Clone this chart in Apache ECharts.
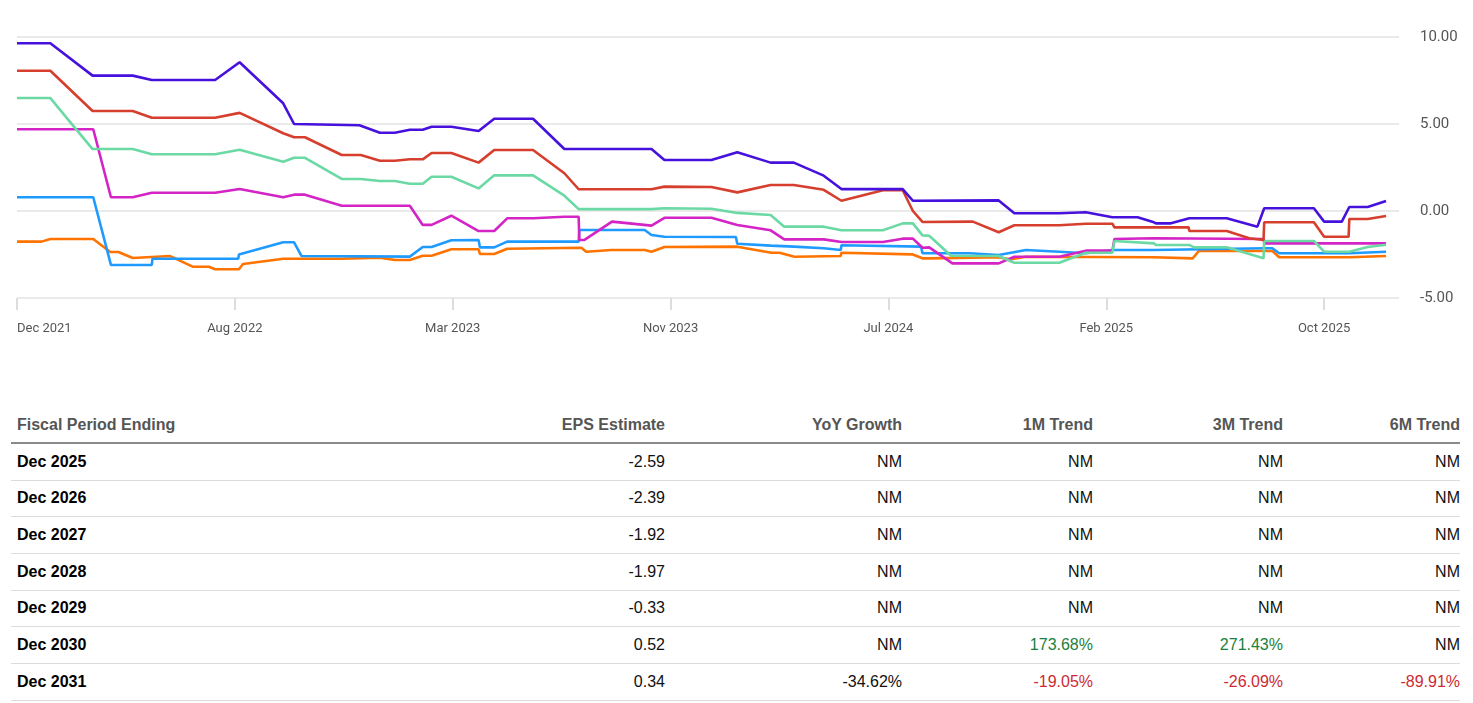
<!DOCTYPE html>
<html>
<head>
<meta charset="utf-8">
<script src="https://cdn.jsdelivr.net/npm/echarts@6/dist/echarts.min.js"></script>
<style>
  html, body { margin: 0; padding: 0; background: #fff; }
  #chart { position: absolute; left: 0; top: 0; width: 1473px; height: 360px; }
  #tbl { position: absolute; left: 11px; top: 407px; width: 1449px; border-collapse: collapse; table-layout: fixed;
         font-family: "Liberation Sans", Arial, sans-serif; font-size: 16px; color: #111; }
  #tbl th { height: 35px; font-weight: bold; color: #555; text-align: right; padding: 0; border-bottom: 2px solid #8a8a8a; vertical-align: middle; }
  #tbl td { height: 35.67px; text-align: right; padding: 0; border-bottom: 1px solid #dcdcdc; vertical-align: middle; }
  #tbl th:first-child, #tbl td:first-child { text-align: left; padding-left: 6px; }
  #tbl td:first-child { font-weight: bold; color: #000; }
  .pos { color: #1a7f3a; }
  .neg { color: #cc2b35; }
</style>
</head>
<body>
<div id="chart"></div>
<table id="tbl"></table>
<script>
// ---- x axis: weeks since Dec 2021; tick labels ----
const tickWeeks = [0, 32, 64, 96, 128, 160, 192];
const tickLabels = ['Dec 2021', 'Aug 2022', 'Mar 2023', 'Nov 2023', 'Jul 2024', 'Feb 2025', 'Oct 2025'];

// ---- series (week, EPS estimate) ----
const dec2030 = [[0,9.64],[4.9,9.64],[11.1,7.78],[17.0,7.78],[19.8,7.53],[29.1,7.53],[32.7,8.55],[39.1,6.19],[40.7,5.00],[50.3,4.93],[53.3,4.50],[55.5,4.50],[57.7,4.67],[59.6,4.67],[60.9,4.84],[63.8,4.84],[67.8,4.60],[70.1,5.30],[75.8,5.30],[80.4,3.56],[93.2,3.56],[95.1,2.93],[102.0,2.93],[105.8,3.37],[110.7,2.78],[114.1,2.78],[118.5,2.03],[121.1,1.26],[130.1,1.26],[131.6,0.59],[144.2,0.61],[146.5,-0.13],[153.1,-0.13],[157.0,-0.07],[160.9,-0.36],[164.6,-0.36],[167.0,-0.65],[167.3,-0.71],[169.5,-0.71],[172.2,-0.42],[177.7,-0.42],[182.2,-0.90],[183.2,0.16],[190.5,0.16],[192.0,-0.61],[194.6,-0.61],[195.7,0.23],[198.4,0.23],[201.1,0.57]];
const dec2029 = [[0,8.06],[4.9,8.06],[11.1,5.75],[17.0,5.75],[19.8,5.36],[29.1,5.36],[32.7,5.64],[39.1,4.47],[40.7,4.24],[42.3,4.24],[47.7,3.22],[50.5,3.22],[53.3,2.89],[55.5,2.89],[57.7,2.97],[59.6,2.97],[60.9,3.33],[63.8,3.33],[67.8,2.78],[70.1,3.51],[75.8,3.51],[80.4,2.17],[82.5,1.25],[93.2,1.25],[95.1,1.40],[102.0,1.38],[105.8,1.07],[110.7,1.49],[114.1,1.49],[118.5,1.22],[121.1,0.59],[127.2,1.19],[130.1,1.19],[131.6,0.00],[133.0,-0.63],[140.4,-0.61],[144.2,-1.22],[146.5,-0.82],[153.1,-0.82],[157.0,-0.73],[160.9,-0.73],[161.2,-0.94],[172.1,-0.94],[172.2,-1.15],[177.7,-1.15],[181.0,-1.57],[183.1,-1.67],[183.2,-0.65],[190.5,-0.65],[192.0,-1.48],[195.6,-1.48],[195.7,-0.46],[198.4,-0.46],[201.1,-0.29]];
const dec2028 = [[0,6.49],[4.9,6.49],[11.1,3.56],[17.0,3.56],[19.8,3.26],[29.1,3.26],[32.7,3.52],[39.1,2.83],[40.7,3.06],[42.3,3.06],[47.7,1.84],[50.5,1.84],[53.3,1.72],[55.5,1.72],[57.7,1.57],[59.6,1.57],[60.9,1.97],[63.8,1.97],[67.8,1.30],[70.1,2.05],[75.8,2.05],[80.4,0.88],[82.5,0.11],[93.2,0.11],[95.1,0.16],[102.0,0.13],[105.8,-0.11],[110.7,-0.23],[112.7,-0.90],[118.5,-0.90],[121.1,-1.11],[127.2,-1.11],[130.1,-0.71],[131.6,-0.71],[133.0,-1.40],[134.0,-1.42],[137.2,-2.57],[144.2,-2.59],[146.5,-2.97],[153.1,-2.97],[157.0,-2.40],[160.9,-2.40],[161.2,-1.72],[167.0,-1.86],[167.3,-1.95],[172.2,-1.95],[172.9,-2.09],[177.7,-2.09],[183.1,-2.72],[183.2,-1.72],[190.5,-1.72],[192.0,-2.34],[195.7,-2.34],[198.4,-2.07],[201.1,-1.94]];
const dec2027 = [[0,4.70],[11.2,4.70],[13.8,0.79],[17.0,0.79],[19.8,1.05],[29.1,1.05],[32.7,1.26],[39.1,0.79],[40.7,0.94],[42.3,0.94],[47.7,0.30],[57.7,0.30],[59.6,-0.80],[60.9,-0.80],[63.8,-0.27],[67.8,-1.15],[70.1,-1.15],[72.0,-0.42],[75.8,-0.42],[80.4,-0.33],[82.5,-0.33],[82.6,-1.67],[83.3,-1.67],[87.4,-0.61],[93.2,-0.84],[95.1,-0.39],[102.0,-0.39],[105.8,-0.80],[110.7,-1.11],[112.7,-1.63],[118.5,-1.63],[121.1,-1.78],[127.2,-1.78],[130.1,-1.59],[131.6,-1.59],[133.0,-2.11],[134.0,-2.09],[137.4,-3.01],[144.2,-3.01],[146.5,-2.63],[153.1,-2.63],[157.0,-2.28],[160.9,-2.28],[161.2,-1.61],[167.0,-1.57],[183.1,-1.61],[183.2,-1.86],[201.1,-1.86]];
const dec2026 = [[0,0.79],[11.2,0.79],[13.8,-3.10],[19.8,-3.10],[19.9,-2.74],[32.5,-2.74],[32.6,-2.50],[39.1,-1.80],[40.7,-1.80],[41.8,-2.59],[57.7,-2.62],[59.6,-2.07],[60.9,-2.07],[63.8,-1.68],[67.8,-1.67],[68.0,-2.09],[70.1,-2.09],[72.0,-1.76],[82.5,-1.76],[82.6,-1.09],[92.2,-1.09],[93.2,-1.38],[95.1,-1.48],[105.6,-1.49],[105.8,-1.88],[110.7,-1.99],[114.1,-2.05],[118.5,-2.14],[121.0,-2.24],[121.1,-1.97],[132.8,-2.05],[133.0,-2.43],[139.9,-2.43],[144.2,-2.53],[148.2,-2.24],[153.1,-2.34],[157.0,-2.43],[161.2,-2.24],[167.0,-2.24],[183.2,-2.14],[184.4,-2.14],[185.4,-2.43],[195.7,-2.43],[201.1,-2.34]];
const dec2025 = [[0,-1.76],[3.6,-1.76],[4.9,-1.61],[11.2,-1.61],[13.7,-2.36],[14.9,-2.36],[17.0,-2.70],[22.5,-2.59],[25.8,-3.20],[28.2,-3.20],[29.1,-3.35],[32.6,-3.35],[33.2,-3.05],[39.1,-2.74],[47.7,-2.74],[47.8,-2.63],[53.3,-2.68],[55.5,-2.82],[57.7,-2.82],[59.6,-2.57],[60.9,-2.57],[63.8,-2.20],[67.8,-2.20],[68.0,-2.47],[70.1,-2.47],[72.0,-2.17],[82.9,-2.11],[83.6,-2.34],[87.3,-2.24],[92.2,-2.24],[93.2,-2.34],[95.1,-2.07],[105.8,-2.05],[110.8,-2.40],[112.0,-2.40],[114.2,-2.63],[121.0,-2.59],[121.1,-2.40],[131.5,-2.49],[131.6,-2.59],[133.0,-2.72],[134.0,-2.72],[144.2,-2.66],[145.8,-2.78],[148.2,-2.63],[167.0,-2.66],[172.7,-2.72],[173.6,-2.30],[184.4,-2.30],[185.4,-2.66],[195.7,-2.66],[201.1,-2.59]];

// ---- table ----
const periods = ['Dec 2025','Dec 2026','Dec 2027','Dec 2028','Dec 2029','Dec 2030','Dec 2031'];
const epsEstimate = ['-2.59','-2.39','-1.92','-1.97','-0.33','0.52','0.34'];
const yoyGrowth = ['NM','NM','NM','NM','NM','NM','-34.62%'];
const trend1M = ['NM','NM','NM','NM','NM','173.68%','-19.05%'];
const trend3M = ['NM','NM','NM','NM','NM','271.43%','-26.09%'];
const trend6M = ['NM','NM','NM','NM','NM','NM','-89.91%'];
const headers = ['Fiscal Period Ending','EPS Estimate','YoY Growth','1M Trend','3M Trend','6M Trend'];

const colWidths = [420, 234, 237, 191, 190, 177];
(function buildTable() {
  const t = document.getElementById('tbl');
  let html = '<colgroup>' + colWidths.map(w => '<col style="width:' + w + 'px">').join('') + '</colgroup>';
  html += '<tr>' + headers.map(h => '<th>' + h + '</th>').join('') + '</tr>';
  const trendCls = v => v === 'NM' ? '' : (v.charAt(0) === '-' ? 'neg' : 'pos');
  periods.forEach((p, i) => {
    html += '<tr><td>' + p + '</td><td>' + epsEstimate[i] + '</td><td>' + yoyGrowth[i] + '</td>' +
      '<td class="' + trendCls(trend1M[i]) + '">' + trend1M[i] + '</td>' +
      '<td class="' + trendCls(trend3M[i]) + '">' + trend3M[i] + '</td>' +
      '<td class="' + trendCls(trend6M[i]) + '">' + trend6M[i] + '</td></tr>';
  });
  t.innerHTML = html;
})();

// ---- chart ----
const seriesDefs = [
  { name: 'Dec 2025', data: dec2025, color: '#ff7300' },
  { name: 'Dec 2026', data: dec2026, color: '#1f9bff' },
  { name: 'Dec 2027', data: dec2027, color: '#d424c6' },
  { name: 'Dec 2028', data: dec2028, color: '#6bd9a4' },
  { name: 'Dec 2029', data: dec2029, color: '#d63e2e' },
  { name: 'Dec 2030', data: dec2030, color: '#4611dc' }
];
const chart = echarts.init(document.getElementById('chart'), null, { renderer: 'canvas' });
chart.setOption({
  animation: false,
  backgroundColor: '#fff',
  textStyle: { fontFamily: 'Roboto, sans-serif' },
  grid: { left: 17, right: 74, top: 37, bottom: 62, containLabel: false },
  xAxis: {
    type: 'value', min: 0, max: 203,
    axisLine: { show: false, onZero: false },
    axisTick: { show: true, length: 12, customValues: tickWeeks, lineStyle: { color: '#dddddd', width: 2 } },
    axisLabel: {
      customValues: tickWeeks, margin: 24, fontSize: 13, color: '#555', alignMinLabel: 'left',
      formatter: v => tickLabels[tickWeeks.indexOf(Math.round(v))] || ''
    },
    splitLine: { show: false }
  },
  yAxis: {
    type: 'value', position: 'right', min: -5, max: 10, interval: 5,
    axisLine: { show: false }, axisTick: { show: false },
    axisLabel: { margin: 21, fontSize: 15, color: '#555', formatter: v => v.toFixed(2) },
    splitLine: { lineStyle: { color: '#e3e3e3', width: 1.5 } }
  },
  series: seriesDefs.map(s => ({
    name: s.name, type: 'line', data: s.data, showSymbol: false, symbol: 'none',
    lineStyle: { color: s.color, width: 2.6 }, itemStyle: { color: s.color }
  }))
});
</script>
</body>
</html>
